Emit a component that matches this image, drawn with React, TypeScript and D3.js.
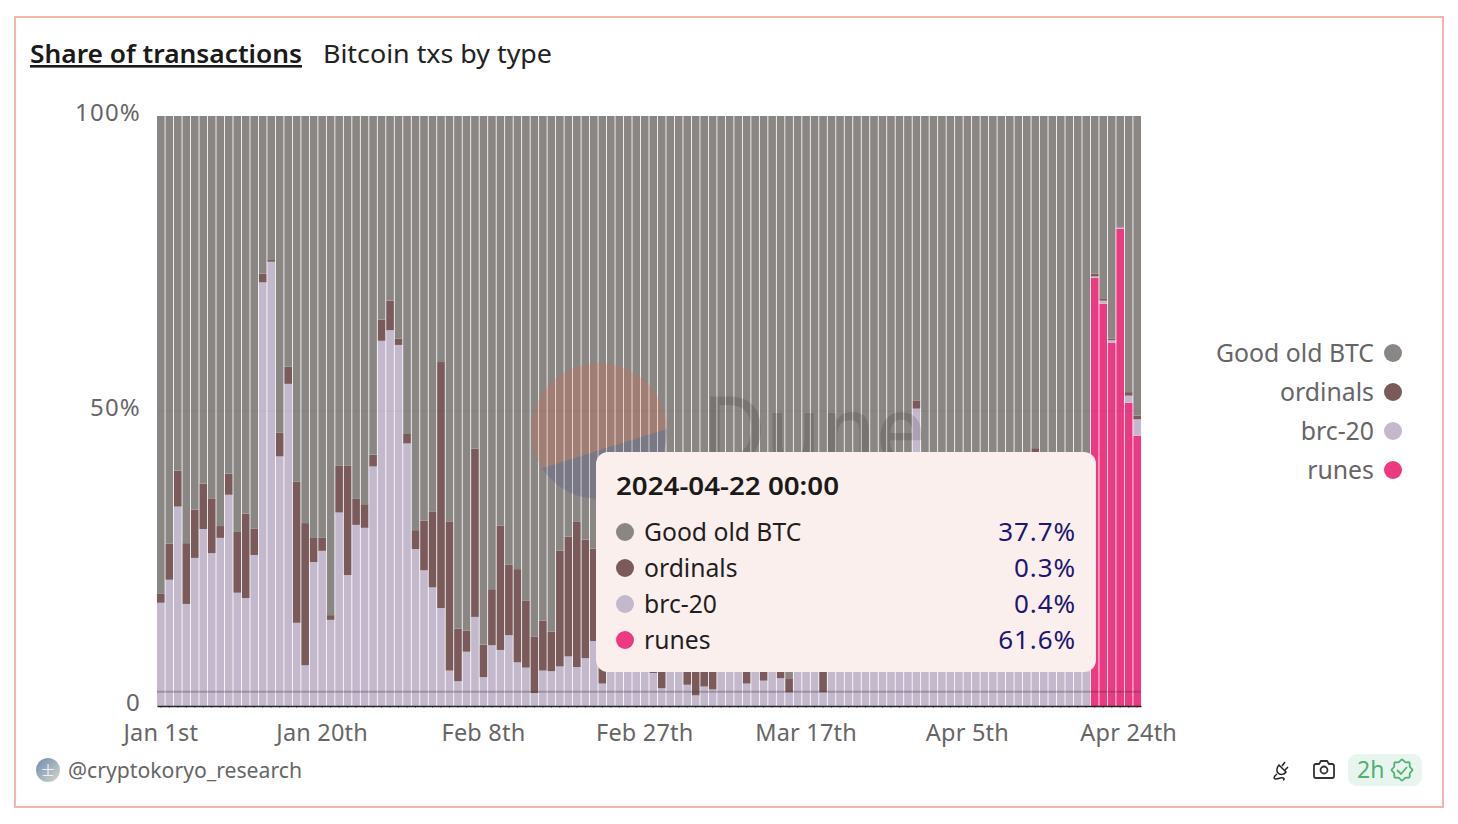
import * as d3 from 'd3';
import React, { useRef, useEffect } from 'react';

const FONT = '"Noto Sans", sans-serif';

const seriesNames = ['runes', 'brc-20', 'ordinals', 'Good old BTC'];
const legendNames = ['Good old BTC', 'ordinals', 'brc-20', 'runes'];
const seriesColors = ['#ec3a80', '#c4b8cd', '#7a5a5a', '#8a8684'];
const tooltipValues = ['37.7%', '0.3%', '0.4%', '61.6%'];
const tickLabels = ['Jan 1st', 'Jan 20th', 'Feb 8th', 'Feb 27th', 'Mar 17th', 'Apr 5th', 'Apr 24th'];

const brc20 = [
  17.5, 21.4, 33.8, 17.3, 25.1, 30, 25.9, 28.5, 35.8, 19.2,
  18.3, 25.6, 71.8, 75.3, 42.3, 54.6, 14.1, 6.9, 24.4, 26.3,
  14.6, 32.8, 22.2, 30.7, 30.2, 40.6, 61.9, 63.7, 61.2, 44.5,
  26.6, 23, 20.1, 16.6, 6, 4.2, 9.2, 15.1, 4.9, 10.3,
  9.5, 12, 7.4, 6.5, 2.2, 6, 5.9, 6.7, 8.4, 6.6,
  8.1, 11, 3.8, 8, 9, 10, 11, 9, 5.6, 3,
  7, 8, 3.6, 1.8, 3.3, 2.8, 7, 8, 6.5, 3.8,
  7, 4.3, 7, 4.7, 2.3, 6, 6, 6, 2.3, 9,
  10, 9, 11, 12, 10, 9, 8, 10, 12, 50.4,
  11, 10, 9, 8, 10, 9, 11, 12, 10, 9,
  8, 9, 10, 36, 11, 10, 9, 8, 9, 10,
  0.2, 0.5, 0.4, 0.2, 1.2, 2.8,
];

const ordinals = [
  1.5, 6.1, 6.1, 10.3, 8.2, 7.7, 9.3, 2, 3.6, 10.3,
  14.3, 4.5, 1.5, 0.3, 4, 2.9, 23.9, 24.1, 4.2, 2.2,
  0.8, 7.9, 18.5, 4.4, 4, 2, 3.6, 5, 1.1, 1.6,
  3.2, 8.4, 12.8, 41.7, 25.3, 8.9, 3.6, 28.5, 5.5, 9.5,
  21.1, 12, 15.8, 11.4, 9.6, 8.5, 6.7, 19.6, 20.3, 24.6,
  20.1, 15.7, 12, 9, 8, 5, 4, 6, 8, 10,
  6, 5, 9, 7, 8, 9, 5, 4, 5, 6,
  4, 7, 3, 5, 2.4, 3, 2, 2, 7, 2,
  2, 1, 2, 3, 1, 2, 2, 1, 2, 1.4,
  2, 1, 2, 1, 2, 3, 2, 1, 2, 1,
  2, 1, 2, 7.7, 2, 1, 2, 1, 2, 1,
  0.5, 0.4, 0.3, 0.1, 0.6, 0.6,
];

const runes = [
  ...new Array(110).fill(0),
  72.6, 68.2, 61.6, 80.9, 51.4, 45.8,
];

const goodOldBtc = [
  81, 72.5, 60.1, 72.4, 66.7, 62.3, 64.8, 69.5, 60.6, 70.5,
  67.4, 69.9, 26.7, 24.4, 53.7, 42.5, 62, 69, 71.4, 71.5,
  84.6, 59.3, 59.3, 64.9, 65.8, 57.4, 34.5, 31.3, 37.7, 53.9,
  70.2, 68.6, 67.1, 41.7, 68.7, 86.9, 87.2, 56.4, 89.6, 80.2,
  69.4, 76, 76.8, 82.1, 88.2, 85.5, 87.4, 73.7, 71.3, 68.8,
  71.8, 73.3, 84.2, 83, 83, 85, 85, 85, 86.4, 87,
  87, 87, 87.4, 91.2, 88.7, 88.2, 88, 88, 88.5, 90.2,
  89, 88.7, 90, 90.3, 95.3, 91, 92, 92, 90.7, 89,
  88, 90, 87, 85, 89, 89, 90, 89, 86, 48.2,
  87, 89, 89, 91, 88, 88, 87, 87, 88, 90,
  90, 90, 88, 56.3, 87, 89, 89, 91, 89, 89,
  26.7, 30.9, 37.7, 18.8, 46.8, 50.8,
];

const App: React.FC = () => {
  const ref = useRef<SVGSVGElement>(null);

  useEffect(() => {
    const svg = d3.select(ref.current);
    svg.selectAll('*').remove();

    const left = 157, right = 1141, top = 116, bottom = 706;
    const days = d3.range(brc20.length);
    const rows = days.map(i => ({
      i,
      runes: runes[i],
      'brc-20': brc20[i],
      ordinals: ordinals[i],
      'Good old BTC': goodOldBtc[i],
    }));

    const x = d3.scaleBand<number>().domain(days).range([left, right]).paddingInner(0.1).paddingOuter(0);
    const y = d3.scaleLinear().domain([0, 1]).range([bottom, top]);
    const color = d3.scaleOrdinal<string>().domain(seriesNames).range(seriesColors);
    const stacked = d3.stack<any>().keys(seriesNames).offset(d3.stackOffsetExpand)(rows);

    // frame
    svg.append('rect').attr('x', 15).attr('y', 17).attr('width', 1428).attr('height', 790)
      .attr('fill', '#fff').attr('stroke', '#f2b5a7').attr('stroke-width', 2);

    // title
    svg.append('text').attr('x', 30).attr('y', 63).attr('font-size', 26).attr('font-weight', 600)
      .attr('fill', '#1a1a1a').attr('text-decoration', 'underline')
      .attr('textLength', 272).attr('lengthAdjust', 'spacingAndGlyphs').text('Share of transactions');
    svg.append('text').attr('x', 323).attr('y', 63).attr('font-size', 26)
      .attr('fill', '#222').attr('textLength', 229).attr('lengthAdjust', 'spacingAndGlyphs').text('Bitcoin txs by type');

    // bars
    svg.append('g').selectAll('g').data(stacked).enter().append('g')
      .attr('fill', d => color(d.key))
      .selectAll('rect').data(d => d).enter().append('rect')
      .attr('x', d => x(d.data.i) as number)
      .attr('width', x.bandwidth())
      .attr('y', d => y(d[1]))
      .attr('height', d => y(d[0]) - y(d[1]));

    // gridlines sit over the bars
    svg.append('line').attr('x1', left).attr('x2', right).attr('y1', y(0.5)).attr('y2', y(0.5))
      .attr('stroke', '#000').attr('stroke-opacity', 0.04);
    svg.append('line').attr('x1', left).attr('x2', right).attr('y1', y(0.024)).attr('y2', y(0.024))
      .attr('stroke', '#3a3040').attr('stroke-opacity', 0.3).attr('stroke-width', 2);

    // watermark, a disc cut by a straight chord
    const cx = 599, cy = 431, r = 68;
    const chordRight = -0.03, chordLeft = 2.56;
    const upper = d3.path();
    upper.arc(cx, cy, r, chordLeft, Math.PI * 2 + chordRight);
    upper.closePath();
    const lower = d3.path();
    lower.arc(cx, cy, r, chordRight, chordLeft);
    lower.closePath();
    svg.append('path').attr('d', upper.toString()).attr('fill', '#f0603a').attr('fill-opacity', 0.2);
    svg.append('path').attr('d', lower.toString()).attr('fill', '#3a3f88').attr('fill-opacity', 0.2);
    svg.append('text').attr('x', 702).attr('y', 463).attr('font-size', 92).attr('font-weight', 500)
      .attr('fill', '#000').attr('fill-opacity', 0.13)
      .attr('textLength', 224).attr('lengthAdjust', 'spacingAndGlyphs').text('Dune');

    // x axis, a tick for every day and a label every 19 days
    const xAxis = d3.axisBottom(x).tickSize(1.5).tickSizeOuter(0).tickPadding(17)
      .tickFormat((d: number) => (d % 19 === 0 ? tickLabels[d / 19] : ''));
    const xg = svg.append('g').attr('transform', `translate(0,${bottom})`).call(xAxis as any);
    xg.select('.domain').attr('stroke', '#222').attr('stroke-width', 1.5);
    xg.selectAll('.tick line').attr('stroke', '#222');
    xg.selectAll('.tick text').attr('font-size', 23.5).attr('letter-spacing', 0.2)
      .attr('font-family', FONT).attr('fill', '#666');

    // y axis labels
    const yAxis = d3.axisLeft(y).tickValues([0, 0.5, 1]).tickSize(0).tickPadding(16)
      .tickFormat((d: any) => (d === 0 ? '0' : d3.format('.0%')(d)));
    const yg = svg.append('g').attr('transform', `translate(${left},-3)`).call(yAxis as any);
    yg.select('.domain').remove();
    yg.selectAll('.tick text').attr('font-size', 24).attr('letter-spacing', 1.2)
      .attr('font-family', FONT).attr('fill', '#666');

    // legend
    const legendY = d3.scalePoint<string>().domain(legendNames).range([353, 470]);
    const legend = svg.append('g').selectAll('g').data(legendNames).enter().append('g')
      .attr('transform', d => `translate(0,${legendY(d)})`);
    legend.append('text').attr('x', 1374).attr('y', 9).attr('text-anchor', 'end')
      .attr('font-size', 24.8).attr('fill', '#666').text(d => d);
    legend.append('circle').attr('cx', 1393).attr('r', 9).attr('fill', d => color(d));

    // tooltip
    svg.append('rect').attr('x', 596).attr('y', 452).attr('width', 500).attr('height', 220).attr('rx', 12)
      .attr('fill', '#fbefed');
    svg.append('text').attr('x', 616).attr('y', 495).attr('font-size', 26).attr('font-weight', 600)
      .attr('fill', '#1a1a1a').attr('textLength', 223).attr('lengthAdjust', 'spacingAndGlyphs').text('2024-04-22 00:00');
    const tipY = d3.scalePoint<string>().domain(legendNames).range([532, 640]);
    const tip = svg.append('g').selectAll('g').data(legendNames).enter().append('g')
      .attr('transform', d => `translate(0,${tipY(d)})`);
    tip.append('circle').attr('cx', 625).attr('r', 9).attr('fill', d => color(d));
    tip.append('text').attr('x', 644).attr('y', 9).attr('font-size', 24.7).attr('fill', '#1f1f1f').text(d => d);
    tip.append('text').attr('x', 1076).attr('y', 9).attr('text-anchor', 'end').attr('font-size', 26)
      .attr('letter-spacing', 0.9).attr('fill', '#1d1673').text((d, i) => tooltipValues[i]);

    // footer
    const defs = svg.append('defs');
    const grad = defs.append('linearGradient').attr('id', 'avatar').attr('x1', 0).attr('y1', 0).attr('x2', 1).attr('y2', 1);
    grad.append('stop').attr('offset', 0).attr('stop-color', '#6f8bb0');
    grad.append('stop').attr('offset', 1).attr('stop-color', '#d5d8c8');
    svg.append('circle').attr('cx', 48).attr('cy', 770).attr('r', 12).attr('fill', 'url(#avatar)');
    svg.append('text').attr('x', 48).attr('y', 775).attr('text-anchor', 'middle').attr('font-size', 13)
      .attr('font-family', '"Noto Sans CJK JP"').attr('fill', '#eef').text('士');
    svg.append('text').attr('x', 68).attr('y', 778).attr('font-size', 22).attr('fill', '#666')
      .attr('textLength', 234).attr('lengthAdjust', 'spacingAndGlyphs').text('@cryptokoryo_research');

    // plug icon
    svg.append('path')
      .attr('d', 'M1279 765l7 7c-2 3-6 3-8 1s-1-6 1-8zM1282 766l3-4M1285 770l3-3M1277 774c-3 2-4 5-1 5s5-2 7-1 1 2 0 2')
      .attr('fill', 'none').attr('stroke', '#222').attr('stroke-width', 1.5);
    // camera icon
    svg.append('path')
      .attr('d', 'M1316 764h3l2-3h6l2 3h3c1 0 2 1 2 2v10c0 1-1 2-2 2h-16c-1 0-2-1-2-2v-10c0-1 1-2 2-2z')
      .attr('fill', 'none').attr('stroke', '#333').attr('stroke-width', 1.8);
    svg.append('circle').attr('cx', 1324).attr('cy', 770).attr('r', 3.5)
      .attr('fill', 'none').attr('stroke', '#333').attr('stroke-width', 1.8);

    // freshness pill
    svg.append('rect').attr('x', 1348).attr('y', 754).attr('width', 74).attr('height', 32).attr('rx', 9)
      .attr('fill', '#e8f5ef');
    svg.append('text').attr('x', 1357).attr('y', 778).attr('font-size', 23).attr('fill', '#4db372').text('2h');
    const badge = d3.lineRadial<number>().curve(d3.curveCardinalClosed)
      .angle((d, i) => i * Math.PI / 8).radius(d => d);
    svg.append('path').attr('transform', 'translate(1402,770)')
      .attr('d', badge([10.5, 8.5, 10.5, 8.5, 10.5, 8.5, 10.5, 8.5, 10.5, 8.5, 10.5, 8.5, 10.5, 8.5, 10.5, 8.5]))
      .attr('fill', 'none').attr('stroke', '#4db372').attr('stroke-width', 1.8);
    svg.append('path').attr('d', 'M1397 770l4 4 6-7')
      .attr('fill', 'none').attr('stroke', '#4db372').attr('stroke-width', 1.8);
  }, []);

  return (
    <svg
      ref={ref}
      width={1458}
      height={824}
      style={{ position: 'absolute', left: 0, top: 0, fontFamily: FONT }}
    />
  );
};

export default App;
